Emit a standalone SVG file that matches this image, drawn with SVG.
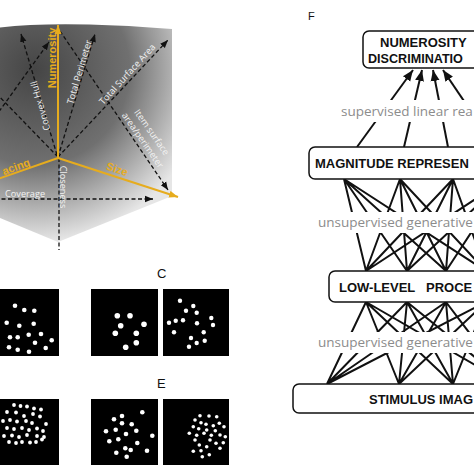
<svg xmlns="http://www.w3.org/2000/svg" width="474" height="474" viewBox="0 0 474 474">
<style>
.dash{fill:none;stroke:#111;stroke-width:1.3;stroke-dasharray:4 2.5}
.ax{fill:none;stroke:#e6ac1e;stroke-width:2}
.wl{font-family:"Open Sans","Liberation Sans",sans-serif;font-size:9.2px;fill:#f2f2f2;text-anchor:middle;dominant-baseline:central}
.yl{font-family:"Liberation Sans",Arial,sans-serif;font-size:11px;font-weight:bold;fill:#e6ac1e;text-anchor:middle;dominant-baseline:central}
.panel{font-family:"Liberation Sans",Arial,sans-serif;font-size:13px;fill:#111}
.box rect{fill:#fff;stroke:#111;stroke-width:1.5}
.box text{font-family:"Liberation Sans",Arial,sans-serif;font-size:13px;font-weight:bold;fill:#111}
.lab{font-family:"Open Sans","Liberation Sans",sans-serif;font-size:13.5px;fill:#8c8c8c}
.net{fill:none;stroke:#111;stroke-width:2}
.sq rect{fill:#000}
.sq circle{fill:#fff}
</style>
<defs>
<radialGradient id="shade" gradientUnits="userSpaceOnUse" cx="35" cy="70" r="172">
<stop offset="0" stop-color="#454545"/>
<stop offset="0.55" stop-color="#707070"/>
<stop offset="1" stop-color="#e6e6e6"/>
</radialGradient>
<marker id="ah" markerUnits="userSpaceOnUse" markerWidth="8" markerHeight="8" viewBox="0 0 8 8" refX="8" refY="4" orient="auto">
<path d="M0,0.8 L8,4 L0,7.2 Z" fill="#111"/>
</marker>
<marker id="ay" markerUnits="userSpaceOnUse" markerWidth="9" markerHeight="8" viewBox="0 0 9 8" refX="9" refY="4" orient="auto">
<path d="M0,0.5 L9,4 L0,7.5 Z" fill="#e6ac1e"/>
</marker>
<marker id="ab" markerUnits="userSpaceOnUse" markerWidth="11" markerHeight="10" viewBox="0 0 11 10" refX="11" refY="5" orient="auto">
<path d="M0,0.5 L11,5 L0,9.5 Z" fill="#111"/>
</marker>
<mask id="gaps" maskUnits="userSpaceOnUse" x="280" y="0" width="200" height="474">
<rect x="280" y="0" width="200" height="474" fill="#fff"/>
<rect x="300" y="100" width="180" height="22" fill="#000"/>
<rect x="300" y="212" width="180" height="21" fill="#000"/>
<rect x="300" y="332" width="180" height="21" fill="#000"/>
</mask>
</defs>
<rect width="474" height="474" fill="#fff"/>

<!-- Panel A: feature space -->
<g id="feature-space">
<path d="M-5,28 Q58,20 172,29 L172,196 L58,242 L-5,216 Z" fill="url(#shade)"/>
<g id="dashed-axes">
<path class="dash" d="M58,157 L95,34" marker-end="url(#ah)"/>
<path class="dash" d="M58,157 L168,40" marker-end="url(#ah)"/>
<path class="dash" d="M60,31 L168,190" marker-end="url(#ah)"/>
<path class="dash" d="M57,155 L21,34" marker-end="url(#ah)"/>
<path class="dash" d="M-20,138 L49,42" marker-end="url(#ah)"/>
<path class="dash" d="M-40,56 L57,156"/>
<path class="dash" d="M-5,199 L153,199" marker-end="url(#ah)"/>
<path class="dash" d="M59,158 L59,250"/>
</g>
<g id="main-axes">
<path class="ax" d="M58,158 L58,25" marker-end="url(#ay)"/>
<path class="ax" d="M58,158 L178,197" marker-end="url(#ay)"/>
<path class="ax" d="M58,158 L-5,180"/>
</g>
<text class="yl" transform="translate(52,58) rotate(-90)">Numerosity</text>
<text class="yl" transform="translate(117,169) rotate(18.4)">Size</text>
<text class="yl" transform="translate(16,166.5) rotate(-20)">acing</text>
<text class="wl" transform="translate(40,106) rotate(-105.6)">Convex Hull</text>
<text class="wl" transform="translate(79,72) rotate(-73.4)">Total Perimeter</text>
<text class="wl" transform="translate(127,74) rotate(-47.6)">Total Surface Area</text>
<text class="wl" transform="translate(152,132) rotate(55)">Item surface</text>
<text class="wl" transform="translate(143,140) rotate(55)">area/perimeter</text>
<text class="wl" transform="translate(63,187) rotate(90)">Closeness</text>
<text class="wl" x="5" y="193" style="text-anchor:start">Coverage</text>
</g>

<!-- Dot stimuli -->
<g id="stim-top-1" class="sq">
<rect x="-8" y="289" width="67" height="67"/>
<circle cx="15" cy="305.7" r="2.3"/><circle cx="24.3" cy="310" r="2.3"/><circle cx="34.3" cy="310.7" r="2.3"/>
<circle cx="6.7" cy="322.7" r="2.3"/><circle cx="19.3" cy="325.7" r="2.3"/><circle cx="33.7" cy="323.7" r="2.3"/>
<circle cx="10" cy="337.3" r="2.3"/><circle cx="17.7" cy="337.3" r="2.3"/><circle cx="28.7" cy="334.7" r="2.3"/>
<circle cx="41" cy="334" r="2.3"/><circle cx="51.7" cy="340.3" r="2.3"/><circle cx="9" cy="347.3" r="2.3"/>
<circle cx="17.7" cy="349.7" r="2.3"/><circle cx="29" cy="351.7" r="2.3"/><circle cx="35" cy="342.7" r="2.3"/>
<circle cx="45.7" cy="348" r="2.3"/>
</g>
<g id="stim-C-left" class="sq">
<rect x="91" y="289" width="67" height="67"/>
<circle cx="117.3" cy="315.7" r="2.8"/><circle cx="130" cy="315.7" r="2.8"/><circle cx="120.7" cy="325.7" r="2.8"/>
<circle cx="144" cy="324.3" r="2.8"/><circle cx="115.3" cy="333.3" r="2.8"/><circle cx="136.3" cy="333.3" r="2.8"/>
<circle cx="136.3" cy="342.7" r="2.8"/><circle cx="125.7" cy="347.3" r="2.8"/>
</g>
<g id="stim-C-right" class="sq">
<rect x="163" y="289" width="66" height="67"/>
<circle cx="180" cy="300.7" r="2.2"/><circle cx="193.3" cy="306" r="2.2"/><circle cx="186" cy="310.7" r="2.2"/>
<circle cx="196.7" cy="312.7" r="2.2"/><circle cx="169" cy="322.7" r="2.2"/><circle cx="175.7" cy="320.7" r="2.2"/>
<circle cx="183" cy="320.3" r="2.2"/><circle cx="197" cy="323.3" r="2.2"/><circle cx="211.3" cy="318" r="2.2"/>
<circle cx="213" cy="325" r="2.2"/><circle cx="174" cy="332.3" r="2.2"/><circle cx="203.7" cy="332.3" r="2.2"/>
<circle cx="191" cy="338" r="2.2"/><circle cx="196.7" cy="343" r="2.2"/><circle cx="204.7" cy="340.7" r="2.2"/>
<circle cx="189" cy="346.7" r="2.2"/>
</g>
<g id="stim-bottom-1" class="sq">
<rect x="-8" y="399" width="67" height="66"/>
<circle cx="14" cy="405" r="1.9"/><circle cx="20.5" cy="406" r="1.9"/><circle cx="27" cy="406.5" r="1.9"/><circle cx="34" cy="408.5" r="1.9"/><circle cx="41" cy="409.5" r="1.9"/>
<circle cx="7" cy="412" r="1.9"/><circle cx="16" cy="412.5" r="1.9"/><circle cx="24" cy="416" r="1.9"/><circle cx="33" cy="414" r="1.9"/><circle cx="40" cy="416.5" r="1.9"/>
<circle cx="3" cy="421" r="1.9"/><circle cx="10" cy="420" r="1.9"/><circle cx="17" cy="421.5" r="1.9"/><circle cx="26" cy="421" r="1.9"/><circle cx="32" cy="423" r="1.9"/><circle cx="46" cy="424" r="1.9"/>
<circle cx="7" cy="428" r="1.9"/><circle cx="14" cy="429" r="1.9"/><circle cx="22" cy="428" r="1.9"/><circle cx="29" cy="430" r="1.9"/><circle cx="37" cy="428.5" r="1.9"/><circle cx="43" cy="431" r="1.9"/>
<circle cx="4" cy="436" r="1.9"/><circle cx="12" cy="435.5" r="1.9"/><circle cx="19" cy="437" r="1.9"/><circle cx="27" cy="435" r="1.9"/><circle cx="37" cy="436" r="1.9"/><circle cx="44" cy="437" r="1.9"/>
<circle cx="9" cy="442" r="1.9"/><circle cx="16" cy="443" r="1.9"/><circle cx="22" cy="442" r="1.9"/><circle cx="30" cy="442.5" r="1.9"/><circle cx="36" cy="442" r="1.9"/><circle cx="42" cy="439.5" r="1.9"/>
</g>
<text class="panel" x="157" y="278">C</text>
<text class="panel" x="157" y="388">E</text>
<g id="stim-E-left" class="sq">
<rect x="91" y="399" width="67" height="66"/>
<circle cx="142.3" cy="412.3" r="2.3"/><circle cx="122" cy="416" r="2.3"/><circle cx="114" cy="419.3" r="2.3"/>
<circle cx="122" cy="423.3" r="2.3"/><circle cx="131.7" cy="424.3" r="2.3"/><circle cx="106" cy="431.3" r="2.3"/>
<circle cx="115.7" cy="429.7" r="2.3"/><circle cx="126" cy="434" r="2.3"/><circle cx="136.3" cy="430.7" r="2.3"/>
<circle cx="152.3" cy="435.7" r="2.3"/><circle cx="109.3" cy="441.3" r="2.3"/><circle cx="118.3" cy="439.3" r="2.3"/>
<circle cx="137.3" cy="443" r="2.3"/><circle cx="125.3" cy="448.3" r="2.3"/><circle cx="116.3" cy="452.7" r="2.3"/>
<circle cx="130.7" cy="450" r="2.3"/><circle cx="147" cy="450.7" r="2.3"/><circle cx="126.7" cy="456.7" r="2.3"/>
</g>
<g id="stim-E-right" class="sq">
<rect x="163" y="399" width="66" height="66"/>
<circle cx="200" cy="415.7" r="1.8"/><circle cx="209" cy="416" r="1.8"/><circle cx="216.7" cy="416.7" r="1.8"/>
<circle cx="195" cy="420" r="1.8"/><circle cx="201" cy="422.7" r="1.8"/><circle cx="206" cy="424.3" r="1.8"/>
<circle cx="213.3" cy="425.7" r="1.8"/><circle cx="219.3" cy="423.3" r="1.8"/><circle cx="224" cy="426.7" r="1.8"/>
<circle cx="193.3" cy="426.7" r="1.8"/><circle cx="198.7" cy="428.7" r="1.8"/><circle cx="206.7" cy="430" r="1.8"/>
<circle cx="215.3" cy="430.7" r="1.8"/><circle cx="189.3" cy="433.3" r="1.8"/><circle cx="196.7" cy="435.3" r="1.8"/>
<circle cx="204" cy="433.3" r="1.8"/><circle cx="211.3" cy="435.3" r="1.8"/><circle cx="220" cy="435" r="1.8"/>
<circle cx="225.3" cy="436.7" r="1.8"/><circle cx="195" cy="440" r="1.8"/><circle cx="210" cy="440" r="1.8"/>
<circle cx="216" cy="443.3" r="1.8"/><circle cx="223.3" cy="442.7" r="1.8"/><circle cx="199.3" cy="445" r="1.8"/>
<circle cx="206.7" cy="446.7" r="1.8"/><circle cx="193.3" cy="451.3" r="1.8"/><circle cx="201" cy="450.7" r="1.8"/>
<circle cx="209.3" cy="454.7" r="1.8"/><circle cx="202.3" cy="456.7" r="1.8"/><circle cx="220" cy="448.3" r="1.8"/>
</g>

<!-- Panel F: network -->
<text class="panel" x="308" y="20" style="font-size:11px">F</text>
<g id="connectors" mask="url(#gaps)">
<path class="net" d="M357,147 L413,70" marker-end="url(#ab)"/>
<path class="net" d="M404,147 L422,70" marker-end="url(#ab)"/>
<path class="net" d="M448,147 L433,70" marker-end="url(#ab)"/>
<path class="net" d="M495,147 L443,70" marker-end="url(#ab)"/>
<path class="net" d="M344,179 L366,271 M344,179 L407,271 M344,179 L446,271 M344,179 L486,271
M400,179 L366,271 M400,179 L407,271 M400,179 L446,271 M400,179 L486,271
M453,179 L366,271 M453,179 L407,271 M453,179 L446,271 M453,179 L486,271
M506,179 L366,271 M506,179 L407,271 M506,179 L446,271 M506,179 L486,271"/>
<path class="net" d="M366,302 L327,384 M366,302 L399,384 M366,302 L453,384 M366,302 L508,384
M407,302 L327,384 M407,302 L399,384 M407,302 L453,384 M407,302 L508,384
M446,302 L327,384 M446,302 L399,384 M446,302 L453,384 M446,302 L508,384
M486,302 L327,384 M486,302 L399,384 M486,302 L453,384 M486,302 L508,384"/>
</g>
<g id="numerosity-discrimination" class="box">
<rect x="363" y="31" width="130" height="37" rx="6"/>
<text x="380" y="47">NUMEROSITY</text>
<text x="368" y="63" style="font-size:12.6px">DISCRIMINATIO</text>
</g>
<text class="lab" x="341" y="116">supervised linear rea</text>
<g id="magnitude-representation" class="box">
<rect x="309" y="147" width="180" height="32" rx="6"/>
<text x="315" y="168">MAGNITUDE REPRESEN</text>
</g>
<text class="lab" x="318" y="227">unsupervised generative</text>
<g id="low-level-processing" class="box">
<rect x="329" y="271" width="160" height="31" rx="6"/>
<text x="339" y="292">LOW-LEVEL<tspan x="426">PROCE</tspan></text>
</g>
<text class="lab" x="318" y="347">unsupervised generative</text>
<g id="stimulus-image" class="box">
<rect x="293" y="384" width="200" height="29" rx="6"/>
<text x="369" y="404">STIMULUS IMAG</text>
</g>
</svg>
